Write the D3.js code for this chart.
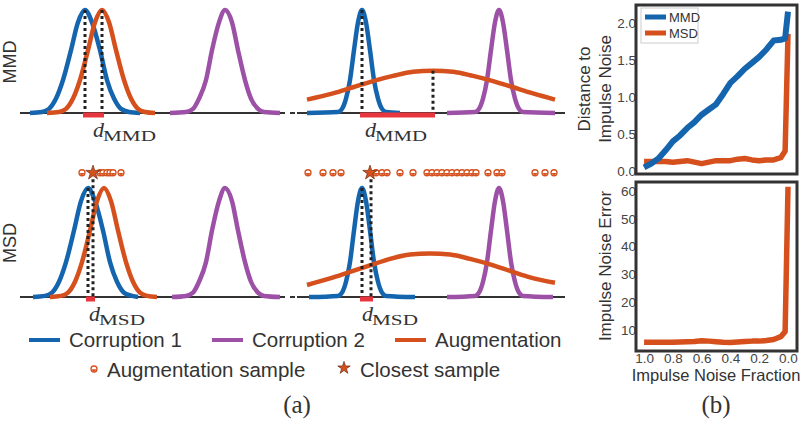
<html><head>
<meta charset="utf-8">
<title>MMD vs MSD</title>
<script src="https://d3js.org/d3.v7.min.js"></script>
<style>
  body { margin: 0; background: #fff; }
  svg text { font-family: "Liberation Sans", Arial, sans-serif; }
  .serif { font-family: "Liberation Serif", "DejaVu Serif", serif !important; }
</style>
</head>
<body>
<svg id="fig" width="806" height="421"></svg>
<script>
// ---------- panel (a): densities ----------
// x in arbitrary feature units, y = relative density height
const mmdCorr1 = [[1.0,0],[2.2,0.01],[2.9,0.04],[3.6,0.14],[4.3,0.32],[5.1,0.61],[5.8,0.88],[6.5,1],[7.2,0.88],[8.0,0.61],[8.7,0.32],[9.4,0.14],[10.1,0.04],[10.9,0.01],[12.0,0]];
const mmdAugNear = [[2.7,0],[3.9,0.01],[4.6,0.04],[5.3,0.14],[6.0,0.32],[6.8,0.61],[7.5,0.88],[8.2,1],[8.9,0.88],[9.6,0.61],[10.4,0.32],[11.1,0.14],[11.8,0.04],[12.5,0.01],[13.5,0]];
const mmdCorr2 = [[15.0,0],[16.6,0.01],[17.3,0.04],[17.9,0.14],[18.6,0.32],[19.2,0.61],[19.9,0.88],[20.5,1],[21.2,0.88],[21.8,0.61],[22.5,0.32],[23.1,0.14],[23.8,0.04],[24.4,0.01],[26.0,0]];

const mmdWideCorr1 = [[2.2,0],[5.3,0.01],[5.7,0.04],[6.1,0.14],[6.5,0.32],[6.9,0.61],[7.3,0.88],[7.7,1],[8.1,0.88],[8.5,0.61],[8.9,0.32],[9.3,0.14],[9.7,0.04],[10.1,0.01],[11.5,0]];
const mmdWideAug = [[2.2,0.13],[4.8,0.19],[6.8,0.25],[8.8,0.31],[10.8,0.36],[12.8,0.40],[14.8,0.41],[16.8,0.40],[18.8,0.36],[20.8,0.31],[22.8,0.25],[24.8,0.19],[27.0,0.13]];
const mmdWideCorr2 = [[16.2,0],[19.0,0.01],[19.4,0.04],[19.8,0.14],[20.2,0.32],[20.6,0.61],[21.0,0.88],[21.4,1],[21.8,0.88],[22.2,0.61],[22.6,0.32],[23.0,0.14],[23.4,0.04],[23.8,0.01],[27.0,0]];

const msdCorr1 = [[1.3,0],[2.5,0.01],[3.2,0.04],[3.9,0.14],[4.6,0.32],[5.4,0.61],[6.1,0.88],[6.8,1],[7.5,0.88],[8.3,0.61],[9.0,0.32],[9.7,0.14],[10.4,0.04],[11.2,0.01],[11.8,0]];
const msdAugNear = [[3.0,0],[4.1,0.01],[4.8,0.04],[5.5,0.14],[6.2,0.32],[7.0,0.61],[7.7,0.88],[8.4,1],[9.1,0.88],[9.8,0.61],[10.6,0.32],[11.3,0.14],[12.0,0.04],[12.7,0.01],[13.7,0]];
const msdCorr2 = [[15.2,0],[16.6,0.01],[17.3,0.04],[17.9,0.14],[18.6,0.32],[19.2,0.61],[19.9,0.88],[20.5,1],[21.2,0.88],[21.8,0.61],[22.5,0.32],[23.1,0.14],[23.8,0.04],[24.4,0.01],[26.0,0]];

const msdWideCorr1 = [[2.4,0],[5.3,0.01],[5.7,0.04],[6.1,0.14],[6.5,0.32],[6.9,0.61],[7.3,0.88],[7.7,1],[8.1,0.88],[8.5,0.61],[8.9,0.32],[9.3,0.14],[9.7,0.04],[10.1,0.01],[13.0,0]];
const msdWideAug = [[2.2,0.11],[4.5,0.17],[6.5,0.23],[8.5,0.29],[10.5,0.35],[12.5,0.39],[14.5,0.40],[16.5,0.39],[18.5,0.35],[20.5,0.30],[22.5,0.24],[24.5,0.18],[27.0,0.13]];
const msdWideCorr2 = [[16.2,0],[19.0,0.01],[19.4,0.04],[19.8,0.14],[20.2,0.32],[20.6,0.61],[21.0,0.88],[21.4,1],[21.8,0.88],[22.2,0.61],[22.6,0.32],[23.0,0.14],[23.4,0.04],[23.8,0.01],[26.8,0]];

// dotted distance guides [x, top]
const mmdNearGuides = [[6.5,1],[8.2,1]];
const mmdWideGuides = [[7.7,1],[14.8,0.41]];
const msdNearGuides = [[6.8,1],[7.3,1.08]];
const msdWideGuides = [[7.7,1],[8.6,1.08]];

// augmentation samples (x positions) and the closest one
const sampleLevel = 1.14;
const msdNearSamples = [6.2, 8.0, 8.3, 8.7, 9.0, 9.3, 10.1];
const msdNearClosest = 7.3;
const msdWideSamples = [2.3, 3.8, 4.8, 5.6, 9.1, 9.7, 10.2, 11.5, 12.8, 14.2, 14.7, 15.2, 15.7, 16.2, 16.7, 17.2, 17.7, 18.2, 18.7, 19.1, 20.3, 21.2, 21.7, 25.0, 26.0, 26.9];
const msdWideClosest = 8.5;

const legendA = ["Corruption 1", "Corruption 2", "Augmentation"];
const legendA2 = ["Augmentation sample", "Closest sample"];

// ---------- panel (b) ----------
const fractions = [1.0,0.95,0.9,0.85,0.8,0.75,0.7,0.65,0.6,0.55,0.5,0.45,0.4,0.35,0.3,0.25,0.2,0.15,0.1,0.05,0.02,0.0];
const mmdDist = [0.05,0.10,0.17,0.28,0.40,0.48,0.58,0.66,0.76,0.83,0.90,1.04,1.19,1.28,1.38,1.46,1.54,1.64,1.76,1.77,1.79,2.15];
const msdDist = [0.13,0.13,0.13,0.13,0.12,0.13,0.14,0.12,0.10,0.12,0.14,0.14,0.14,0.16,0.17,0.15,0.14,0.15,0.15,0.18,0.27,1.85];
const noiseError = [5.6,5.6,5.6,5.6,5.6,5.7,5.8,5.9,6.1,6.0,5.8,5.6,5.5,5.7,5.9,6.0,6.0,6.2,6.6,7.6,9.4,61.5];
const distTicks = [0, 0.5, 1.0, 1.5, 2.0];
const errorTicks = [10, 20, 30, 40, 50, 60];
const fracTicks = [1.0, 0.8, 0.6, 0.4, 0.2, 0.0];

const C1 = "#1465ae", C2 = "#9c50a6", AUG = "#d5501c", BAR = "#e8363e", INK = "#333";

const svg = d3.select("#fig");

const leftX = d3.scaleLinear().domain([0, 26]).range([20, 280]);
const rightX = d3.scaleLinear().domain([0, 28]).range([285, 565]);
const topY = d3.scaleLinear().domain([0, 1]).range([113, 10]);
const botY = d3.scaleLinear().domain([0, 1]).range([297, 188]);

const panels = [
  {x: leftX, y: topY, c1: mmdCorr1, c2: mmdCorr2, aug: mmdAugNear, guides: mmdNearGuides, sub: "MMD", subLen: 53, dX: 7.3, base: [0, 26]},
  {x: rightX, y: topY, c1: mmdWideCorr1, c2: mmdWideCorr2, aug: mmdWideAug, guides: mmdWideGuides, sub: "MMD", subLen: 52, dX: 8.0, base: [1.2, 28], stub: true},
  {x: leftX, y: botY, c1: msdCorr1, c2: msdCorr2, aug: msdAugNear, guides: msdNearGuides, sub: "MSD", subLen: 46, dX: 6.9, base: [0, 26],
    samples: msdNearSamples, closest: msdNearClosest},
  {x: rightX, y: botY, c1: msdWideCorr1, c2: msdWideCorr2, aug: msdWideAug, guides: msdWideGuides, sub: "MSD", subLen: 46, dX: 7.7, base: [1.2, 28], stub: true,
    samples: msdWideSamples, closest: msdWideClosest}
];

function sampleMarker(g, cx, cy, r) {
  g.append("circle").attr("cx", cx).attr("cy", cy).attr("r", r)
    .attr("fill", "#fff").attr("stroke", AUG).attr("stroke-width", 1.3);
  g.append("path")
    .attr("d", `M${cx - r * 0.7},${cy + 0.2} A${r * 0.7},${r * 0.7} 0 0 0 ${cx + r * 0.7},${cy + 0.2} Z`)
    .attr("fill", AUG);
}

function starMarker(g, cx, cy, size) {
  g.append("path").attr("d", d3.symbol(d3.symbolStar, size)())
    .attr("transform", `translate(${cx},${cy})`)
    .attr("fill", AUG).attr("stroke", "#6a2a10").attr("stroke-width", 0.7);
}

panels.forEach(p => {
  const g = svg.append("g");
  const y0 = p.y(0);
  const line = d3.line().x(d => p.x(d[0])).y(d => p.y(d[1])).curve(d3.curveMonotoneX);

  g.append("line").attr("x1", p.x(p.base[0])).attr("x2", p.x(p.base[1]))
    .attr("y1", y0).attr("y2", y0).attr("stroke", INK).attr("stroke-width", 2);
  if (p.stub) {
    g.append("line").attr("x1", p.x(-0.5)).attr("x2", p.x(1.1))
      .attr("y1", y0).attr("y2", y0).attr("stroke", INK).attr("stroke-width", 2)
      .attr("stroke-dasharray", "5,5");
  }

  [[p.c1, C1], [p.c2, C2], [p.aug, AUG]].forEach(([data, col]) => {
    g.append("path").datum(data).attr("d", line)
      .attr("fill", "none").attr("stroke", col).attr("stroke-width", 4.5)
      .attr("stroke-linejoin", "round");
  });

  // dotted guides
  p.guides.forEach(d => {
    g.append("line").attr("x1", p.x(d[0])).attr("x2", p.x(d[0]))
      .attr("y1", p.y(d[1])).attr("y2", y0)
      .attr("stroke", "#222").attr("stroke-width", 3).attr("stroke-dasharray", "3,3");
  });

  // distance bar
  const gx = p.guides.map(d => p.x(d[0]));
  g.append("line").attr("x1", d3.min(gx) - 2).attr("x2", d3.max(gx) + 2)
    .attr("y1", y0 + 2).attr("y2", y0 + 2).attr("stroke", BAR).attr("stroke-width", 5);

  if (p.samples) {
    p.samples.forEach(s => sampleMarker(g, p.x(s), p.y(sampleLevel), 3));
    starMarker(g, p.x(p.closest), p.y(sampleLevel), 65);
  }

  // d_sub label
  const lx = p.x(p.dX);
  g.append("text").attr("class", "serif").attr("x", lx).attr("y", y0 + 24)
    .attr("font-size", 22).attr("font-style", "italic").attr("fill", INK).text("d");
  g.append("text").attr("class", "serif").attr("x", lx + 10).attr("y", y0 + 28)
    .attr("font-size", 14).attr("fill", INK)
    .attr("textLength", p.subLen).attr("lengthAdjust", "spacingAndGlyphs").text(p.sub);
});

// row labels
[["MMD", 62], ["MSD", 243]].forEach(([t, cy]) => {
  svg.append("text").attr("transform", `translate(16,${cy}) rotate(-90)`)
    .attr("text-anchor", "middle").attr("font-size", 18).attr("fill", INK).text(t);
});

// legend (a)
const legCols = [C1, C2, AUG];
const legX = [29, 212, 395];
legendA.forEach((t, i) => {
  svg.append("line").attr("x1", legX[i]).attr("x2", legX[i] + 31)
    .attr("y1", 340).attr("y2", 340).attr("stroke", legCols[i]).attr("stroke-width", 4);
  svg.append("text").attr("x", legX[i] + 40).attr("y", 347)
    .attr("font-size", 20.5).attr("fill", INK).text(t);
});
sampleMarker(svg, 94, 369, 3);
svg.append("text").attr("x", 107).attr("y", 377).attr("font-size", 20.5).attr("fill", INK).text(legendA2[0]);
starMarker(svg, 344, 368, 48);
svg.append("text").attr("x", 360).attr("y", 377).attr("font-size", 20.5).attr("fill", INK).text(legendA2[1]);

svg.append("text").attr("class", "serif").attr("x", 297).attr("y", 413)
  .attr("text-anchor", "middle").attr("font-size", 25).attr("fill", INK).text("(a)");
svg.append("text").attr("class", "serif").attr("x", 716).attr("y", 413)
  .attr("text-anchor", "middle").attr("font-size", 25).attr("fill", INK).text("(b)");

// ---------- panel (b) ----------
const bx = d3.scaleLinear().domain([1.056, -0.0625]).range([636, 797]);
const byTop = d3.scaleLinear().domain([-0.04, 2.24]).range([174, 5]);
const byBot = d3.scaleLinear().domain([2.45, 63.2]).range([351, 182]);

function seriesLine(g, ys, yScale, col, w) {
  const ln = d3.line().x((d, i) => bx(fractions[i])).y(d => yScale(d));
  g.append("path").datum(ys).attr("d", ln).attr("fill", "none")
    .attr("stroke", col).attr("stroke-width", w)
    .attr("stroke-linejoin", "round").attr("stroke-linecap", "butt");
}

const gTop = svg.append("g");
seriesLine(gTop, msdDist, byTop, AUG, 5.5);
seriesLine(gTop, mmdDist, byTop, C1, 6);
const gBot = svg.append("g");
seriesLine(gBot, noiseError, byBot, AUG, 5.5);

function styleAxis(sel) {
  sel.select(".domain").remove();
  sel.selectAll("text").attr("font-size", 13.5).attr("fill", "#444")
    .attr("font-family", "Liberation Sans, Arial, sans-serif");
}
svg.append("g").attr("transform", "translate(636,0)")
  .call(d3.axisLeft(byTop).tickValues(distTicks).tickFormat(d3.format(".1f")).tickSize(0).tickPadding(0))
  .call(styleAxis);
svg.append("g").attr("transform", "translate(636,0)")
  .call(d3.axisLeft(byBot).tickValues(errorTicks).tickFormat(d3.format("d")).tickSize(0).tickPadding(0))
  .call(styleAxis);
svg.append("g").attr("transform", "translate(0,351)")
  .call(d3.axisBottom(bx).tickValues(fracTicks).tickFormat(d3.format(".1f")).tickSize(0).tickPadding(2))
  .call(styleAxis);

// frames
[[5, 174], [182, 351]].forEach(r => {
  svg.append("rect").attr("x", 636).attr("y", r[0]).attr("width", 161).attr("height", r[1] - r[0])
    .attr("fill", "none").attr("stroke", "#333").attr("stroke-width", 3);
});

// legend (b)
svg.append("rect").attr("x", 641).attr("y", 8).attr("width", 57).attr("height", 35)
  .attr("fill", "#fff").attr("fill-opacity", 0.85).attr("stroke", "#ccc").attr("stroke-width", 1);
[["MMD", C1, 17], ["MSD", AUG, 33]].forEach(([t, c, yy]) => {
  svg.append("line").attr("x1", 645).attr("x2", 666).attr("y1", yy).attr("y2", yy)
    .attr("stroke", c).attr("stroke-width", 5);
  svg.append("text").attr("x", 669).attr("y", yy + 5).attr("font-size", 13).attr("fill", INK).text(t);
});

// axis titles (b)
[["Distance to", 590, 89], ["Impulse Noise", 611, 89], ["Impulse Noise Error", 611, 266]].forEach(([t, x, y]) => {
  svg.append("text").attr("transform", `translate(${x},${y}) rotate(-90)`)
    .attr("text-anchor", "middle").attr("font-size", 17).attr("fill", INK).text(t);
});
svg.append("text").attr("x", 716).attr("y", 381).attr("text-anchor", "middle")
  .attr("font-size", 16.5).attr("fill", INK).text("Impulse Noise Fraction");
</script>
</body></html>
